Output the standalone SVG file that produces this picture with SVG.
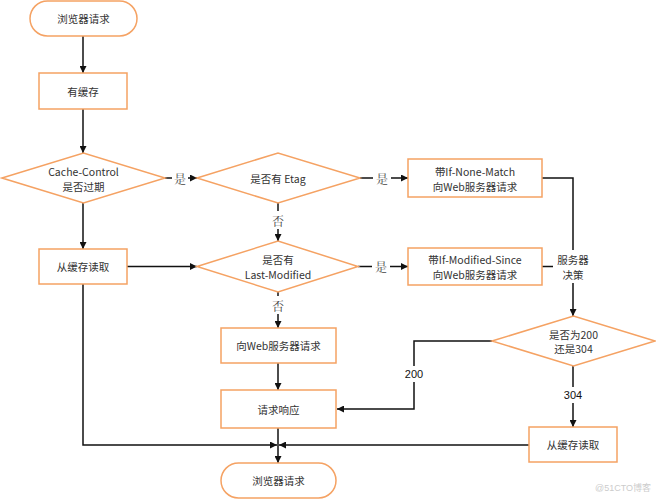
<svg xmlns="http://www.w3.org/2000/svg" width="656" height="500" viewBox="0 0 656 500">
<defs>
<style>
.n{fill:#fff;stroke:#F5A263;stroke-width:1.5}
.t{font-family:"Noto Sans CJK SC","Liberation Sans",sans-serif;font-size:10.5px;fill:#333;text-anchor:middle;dominant-baseline:central}
.s{font-family:"Noto Serif CJK SC","Liberation Serif","Noto Sans CJK SC",serif;font-size:12px;fill:#444;text-anchor:middle;dominant-baseline:central}
.a{font-family:"Liberation Sans",Arial,sans-serif;font-size:11px;fill:#111;text-anchor:middle;dominant-baseline:central}
.c{fill:none;stroke:#111;stroke-width:1.5}
.bg{fill:#fff}
</style>
<marker id="ar" viewBox="0 0 10 10" refX="10" refY="5" markerWidth="7" markerHeight="7" markerUnits="userSpaceOnUse" orient="auto">
<path d="M0,0 L10,5 L0,10 z" fill="#111"/>
</marker>
</defs>
<rect width="656" height="500" fill="#fff"/>
<g id="connectors">
<path class="c" d="M83,36 V73" marker-end="url(#ar)"/>
<path class="c" d="M83,109 V153" marker-end="url(#ar)"/>
<path class="c" d="M83,203 V249" marker-end="url(#ar)"/>
<path class="c" d="M165,178 H197" marker-end="url(#ar)"/>
<path class="c" d="M360,178 H408" marker-end="url(#ar)"/>
<path class="c" d="M278,203 V241" marker-end="url(#ar)"/>
<path class="c" d="M127,266.5 H197" marker-end="url(#ar)"/>
<path class="c" d="M358,266.5 H408" marker-end="url(#ar)"/>
<path class="c" d="M542,178 H573 V316" marker-end="url(#ar)"/>
<path class="c" d="M542,266.5 H573"/>
<path class="c" d="M278,292 V328" marker-end="url(#ar)"/>
<path class="c" d="M278,363 V390" marker-end="url(#ar)"/>
<path class="c" d="M278,428 V463" marker-end="url(#ar)"/>
<path class="c" d="M492,341 H414 V409 H337" marker-end="url(#ar)"/>
<path class="c" d="M573,366 V427" marker-end="url(#ar)"/>
<path class="c" d="M529,445 H279" marker-end="url(#ar)"/>
<path class="c" d="M83,284 V445 H277" marker-end="url(#ar)"/>
<rect class="bg" x="172" y="171" width="16" height="14"/>
<text class="s" x="180" y="178">是</text>
<rect class="bg" x="373" y="171" width="18" height="14"/>
<text class="s" x="382" y="178">是</text>
<rect class="bg" x="270" y="211" width="16" height="18"/>
<text class="s" x="278" y="220">否</text>
<rect class="bg" x="372" y="259.5" width="18" height="14"/>
<text class="s" x="381" y="266.5">是</text>
<rect class="bg" x="270" y="296" width="16" height="18"/>
<text class="s" x="278" y="305">否</text>
<rect class="bg" x="553" y="250" width="40" height="33"/>
<text class="t" x="573" y="259">服务器</text>
<text class="t" x="573" y="274">决策</text>
<rect class="bg" x="401" y="366" width="26" height="16"/>
<text class="a" x="414" y="374">200</text>
<rect class="bg" x="560" y="387" width="26" height="16"/>
<text class="a" x="573" y="395">304</text>
</g>
<g id="start">
<rect class="n" x="30" y="1" width="107" height="35" rx="17.5"/>
<text class="t" x="83.5" y="18.5">浏览器请求</text>
</g>
<g id="hasCache">
<rect class="n" x="39" y="73" width="88" height="36"/>
<text class="t" x="83" y="91">有缓存</text>
</g>
<g id="cacheControl">
<polygon class="n" points="2,178 83.5,153 165,178 83.5,203"/>
<text class="t" x="83.5" y="171">Cache-Control</text>
<text class="t" x="83.5" y="186">是否过期</text>
</g>
<g id="etag">
<polygon class="n" points="197,178 278,153 360,178 278,203"/>
<text class="t" x="278" y="178">是否有 Etag</text>
</g>
<g id="readCache1">
<rect class="n" x="39" y="249" width="88" height="35"/>
<text class="t" x="83" y="266.5">从缓存读取</text>
</g>
<g id="lastModified">
<polygon class="n" points="197,266.5 278,241 358,266.5 278,292"/>
<text class="t" x="278" y="259.5">是否有</text>
<text class="t" x="278" y="274">Last-Modified</text>
</g>
<g id="ifNoneMatch">
<rect class="n" x="408" y="159" width="134" height="38"/>
<text class="t" x="475" y="171">带If-None-Match</text>
<text class="t" x="475" y="186">向Web服务器请求</text>
</g>
<g id="ifModifiedSince">
<rect class="n" x="408" y="248" width="134" height="37"/>
<text class="t" x="475" y="259.5">带If-Modified-Since</text>
<text class="t" x="475" y="274">向Web服务器请求</text>
</g>
<g id="status">
<polygon class="n" points="492,341 573.5,316 655,341 573.5,366"/>
<text class="t" x="573.5" y="334">是否为200</text>
<text class="t" x="573.5" y="348.5">还是304</text>
</g>
<g id="webRequest">
<rect class="n" x="221" y="328" width="115" height="35"/>
<text class="t" x="278.5" y="345.5">向Web服务器请求</text>
</g>
<g id="response">
<rect class="n" x="221" y="390" width="115" height="38"/>
<text class="t" x="278.5" y="409">请求响应</text>
</g>
<g id="readCache2">
<rect class="n" x="529" y="427" width="88" height="35"/>
<text class="t" x="573" y="444.5">从缓存读取</text>
</g>
<g id="end">
<rect class="n" x="221" y="463" width="115" height="35" rx="17.5"/>
<text class="t" x="278.5" y="480.5">浏览器请求</text>
</g>
<text x="651" y="491" font-family="Liberation Sans,Noto Sans CJK SC,sans-serif" font-size="9" fill="#ccc" text-anchor="end">@51CTO博客</text>
</svg>
